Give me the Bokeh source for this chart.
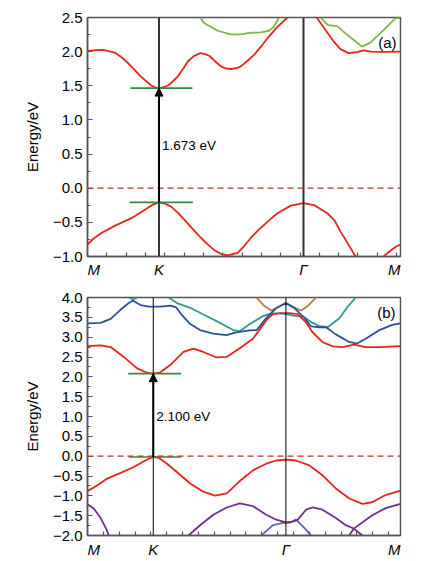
from bokeh.plotting import figure
from bokeh.layouts import column
from bokeh.models import (Span, Label, Arrow, NormalHead, FixedTicker,
                          SingleIntervalTicker, CustomJSTickFormatter, Range1d)
from bokeh.embed import file_html
from bokeh.resources import INLINE

FONT = "Liberation Sans"
RED = "#e8231b"
LGREEN = "#7db843"
DGREEN = "#2f8a3c"
BLUE = "#2b4f9e"
TEAL = "#2e9a92"
BROWN = "#b08040"
PURPLE = "#6e2f8e"
VIOLET = "#6462b8"
ZERO = "#b2352a"

# ---------------- panel (a) ----------------
A_XMAX = 1.62
A_KPTS = [0.0, 0.37, 1.118, 1.62]          # M, K, Gamma, M
A_KLAB = ["M", "K", "\u0393", "M"]
A_YRANGE = (-1.0, 2.5)
A_GAP = "1.673 eV"

a_cb1_x = [0.000, 0.045, 0.081, 0.141, 0.175, 0.210, 0.245, 0.278, 0.330, 0.350, 0.370, 0.390,
           0.416, 0.440, 0.468, 0.495, 0.519, 0.550, 0.584, 0.605, 0.630, 0.660, 0.691, 0.715,
           0.742, 0.770, 0.794, 0.830, 0.862, 0.900, 0.931, 0.983, 1.035]
a_cb1_e = [2.011, 2.022, 2.025, 1.987, 1.920, 1.833, 1.730, 1.630, 1.504, 1.478, 1.466, 1.478,
           1.504, 1.560, 1.639, 1.750, 1.856, 1.935, 1.978, 1.968, 1.940, 1.860, 1.784, 1.755,
           1.746, 1.757, 1.784, 1.870, 1.953, 2.080, 2.195, 2.364, 2.500]
a_cb2_x = [1.186, 1.232, 1.275, 1.309, 1.352, 1.395, 1.430, 1.464, 1.532, 1.620]
a_cb2_e = [2.500, 2.316, 2.146, 2.036, 1.978, 1.992, 2.020, 2.000, 1.997, 2.000]

a_vb1_x = [0.000, 0.030, 0.072, 0.141, 0.227, 0.295, 0.335, 0.370, 0.400, 0.433, 0.465,
           0.502, 0.545, 0.588, 0.625, 0.656, 0.690, 0.725, 0.777, 0.810, 0.845, 0.880,
           0.914, 0.950, 0.983, 1.052, 1.118, 1.172, 1.241, 1.280, 1.309, 1.361, 1.387]
a_vb1_e = [-0.826, -0.740, -0.657, -0.551, -0.439, -0.319, -0.245, -0.207, -0.225, -0.270, -0.350,
           -0.464, -0.600, -0.729, -0.830, -0.907, -0.960, -0.985, -0.946, -0.850, -0.729, -0.625,
           -0.536, -0.445, -0.366, -0.255, -0.218, -0.246, -0.366, -0.480, -0.632, -0.874, -1.000]
a_vb2_x = [1.532, 1.555, 1.576, 1.600, 1.620]
a_vb2_e = [-1.000, -0.945, -0.898, -0.850, -0.826]

a_gr1_x = [0.584, 0.600, 0.622, 0.674, 0.742, 0.794, 0.845, 0.897, 0.940, 0.965, 0.991]
a_gr1_e = [2.500, 2.430, 2.388, 2.306, 2.253, 2.253, 2.277, 2.282, 2.306, 2.364, 2.500]
a_gr2_x = [1.206, 1.244, 1.292, 1.335, 1.378, 1.421, 1.464, 1.532, 1.593, 1.620]
a_gr2_e = [2.500, 2.388, 2.374, 2.268, 2.171, 2.074, 2.132, 2.316, 2.486, 2.500]

a_gl_x0 = [0.222, 0.218]
a_gl_x1 = [0.543, 0.545]
a_gl_e = [1.466, -0.207]

# ---------------- panel (b) ----------------
B_XMAX = 1.975
B_KPTS = [0.0, 0.415, 1.252, 1.975]
B_KLAB = ["M", "K", "\u0393", "M"]
B_YRANGE = (-2.0, 4.0)
B_GAP = "2.100 eV"

b_cb_x = [0.000, 0.083, 0.146, 0.229, 0.313, 0.376, 0.415, 0.460, 0.522, 0.606, 0.668, 0.731,
          0.815, 0.878, 0.961, 1.044, 1.086, 1.128, 1.170, 1.222, 1.274, 1.326, 1.379, 1.420,
          1.483, 1.545, 1.608, 1.682, 1.755, 1.838, 1.975]
b_cb_e = [2.776, 2.794, 2.751, 2.502, 2.214, 2.104, 2.080, 2.114, 2.296, 2.627, 2.711, 2.627,
          2.488, 2.502, 2.720, 2.960, 3.190, 3.430, 3.580, 3.606, 3.606, 3.580, 3.373, 3.124,
          2.876, 2.770, 2.751, 2.810, 2.751, 2.751, 2.776]

b_vb_x = [0.000, 0.063, 0.125, 0.209, 0.292, 0.376, 0.415, 0.449, 0.502, 0.564, 0.648, 0.731,
          0.804, 0.878, 0.961, 1.044, 1.128, 1.191, 1.252, 1.316, 1.400, 1.483, 1.567, 1.650,
          1.734, 1.796, 1.881, 1.975]
b_vb_e = [-0.881, -0.731, -0.565, -0.423, -0.274, -0.085, -0.020, -0.040, -0.190, -0.398, -0.689,
          -0.896, -0.995, -0.938, -0.627, -0.358, -0.190, -0.109, -0.085, -0.109, -0.234, -0.483,
          -0.813, -1.062, -1.204, -1.162, -0.980, -0.871]

b_p1_x = [0.000, 0.041, 0.083, 0.115, 0.135]
b_p1_e = [-1.211, -1.328, -1.560, -1.808, -2.000]
b_p2_x = [0.637, 0.710, 0.794, 0.878, 0.961, 1.044, 1.128, 1.191, 1.252, 1.295, 1.327, 1.379,
          1.421, 1.483, 1.567, 1.630, 1.682, 1.734]
b_p2_e = [-2.000, -1.741, -1.478, -1.294, -1.190, -1.260, -1.478, -1.602, -1.667, -1.650, -1.600,
          -1.350, -1.290, -1.350, -1.560, -1.740, -1.830, -2.000]
b_p4_x = [1.651, 1.682, 1.797, 1.881, 1.975]
b_p4_e = [-2.000, -1.820, -1.490, -1.310, -1.200]
b_l1_x = [1.097, 1.170, 1.233, 1.274, 1.316, 1.368, 1.411]
b_l1_e = [-2.000, -1.740, -1.684, -1.680, -1.600, -1.810, -2.000]

b_bl_x = [0.000, 0.083, 0.146, 0.208, 0.260, 0.288, 0.334, 0.386, 0.460, 0.522, 0.560, 0.595,
          0.648, 0.710, 0.794, 0.878, 0.940, 1.024, 1.068, 1.128, 1.191, 1.252, 1.306, 1.369,
          1.411, 1.463, 1.505, 1.567, 1.651, 1.701, 1.755, 1.838, 1.922, 1.975]
b_bl_e = [3.350, 3.360, 3.460, 3.690, 3.860, 3.920, 3.810, 3.770, 3.770, 3.795, 3.750, 3.560,
          3.330, 3.180, 3.090, 3.050, 3.120, 3.170, 3.180, 3.480, 3.730, 3.860, 3.730, 3.480,
          3.270, 3.250, 3.250, 3.070, 2.880, 2.840, 2.960, 3.170, 3.310, 3.350]

b_t1_x = [0.265, 0.288, 0.309]
b_t1_e = [4.000, 3.940, 4.000]
b_t2_x = [0.512, 0.564, 0.648, 0.731, 0.836, 0.919, 0.961, 1.024, 1.107, 1.160, 1.212, 1.254,
          1.316, 1.358, 1.411, 1.463, 1.515, 1.588, 1.638, 1.693]
b_t2_e = [4.000, 3.860, 3.740, 3.570, 3.360, 3.180, 3.150, 3.330, 3.530, 3.600, 3.600, 3.580,
          3.530, 3.530, 3.380, 3.280, 3.250, 3.470, 3.750, 4.000]

b_br_x = [1.066, 1.112, 1.160, 1.202, 1.252, 1.300, 1.348, 1.394, 1.442]
b_br_e = [4.000, 3.800, 3.670, 3.760, 3.860, 3.760, 3.670, 3.800, 4.000]

b_gl_x0 = [0.257, 0.261]
b_gl_x1 = [0.591, 0.589]
b_gl_e = [2.080, -0.020]


def make_panel(xmax, yrange, kpts, klab, label_shift, minor, height, mbl, mbr, mbt, mbb,
               standoff, kline_w, kline_c):
    p = figure(width=440, height=height, x_range=Range1d(0, xmax),
               y_range=Range1d(*yrange), output_backend="svg", toolbar_location=None,
               min_border_left=mbl, min_border_right=mbr, min_border_top=mbt,
               min_border_bottom=mbb, background_fill_color="white",
               border_fill_color="white")
    p.grid.visible = False
    p.outline_line_color = "#555555"
    p.outline_line_width = 1.5

    # x axis: k-point labels
    pos = [kpts[0] + label_shift, kpts[1], kpts[2], kpts[3] - label_shift]
    xa = p.xaxis[0]
    xa.ticker = FixedTicker(ticks=pos, minor_ticks=minor)
    xa.formatter = CustomJSTickFormatter(args=dict(labels=klab), code="return labels[index];")
    xa.major_tick_in = 0
    xa.major_tick_out = 0
    xa.minor_tick_in = 4
    xa.minor_tick_out = 0
    xa.minor_tick_line_color = "#555555"
    xa.minor_tick_line_width = 1.2
    xa.axis_line_color = "#555555"
    xa.axis_line_width = 1.5
    xa.major_label_text_font = FONT
    xa.major_label_text_font_size = "15px"
    xa.major_label_text_font_style = "italic"
    xa.major_label_text_color = "black"
    xa.major_label_standoff = standoff

    ya = p.yaxis[0]
    ya.ticker = SingleIntervalTicker(interval=0.5, num_minor_ticks=2)
    ya.formatter = CustomJSTickFormatter(
        code="return (tick < -1e-9 ? '\u2212' : '') + Math.abs(tick).toFixed(1);")
    ya.major_tick_in = 5
    ya.major_tick_out = 0
    ya.minor_tick_in = 3
    ya.minor_tick_out = 0
    ya.major_tick_line_color = "#555555"
    ya.minor_tick_line_color = "#555555"
    ya.major_tick_line_width = 1.2
    ya.minor_tick_line_width = 1.2
    ya.axis_line_color = "#555555"
    ya.axis_line_width = 1.5
    ya.major_label_text_font = FONT
    ya.major_label_text_font_size = "15px"
    ya.major_label_text_color = "black"
    ya.major_label_standoff = 5
    ya.axis_label = "Energy/eV"
    ya.axis_label_text_font = FONT
    ya.axis_label_text_font_size = "15px"
    ya.axis_label_text_font_style = "normal"
    ya.axis_label_text_color = "black"
    ya.axis_label_standoff = 9

    for k in kpts[1:3]:
        p.add_layout(Span(location=k, dimension="height", line_color=kline_c,
                          line_width=kline_w))
    p.add_layout(Span(location=0.0, dimension="width", line_color=ZERO,
                      line_width=1.2, line_dash="6 4"))
    return p


# ---------- build panel (a) ----------
pa = make_panel(A_XMAX, A_YRANGE, A_KPTS, A_KLAB, 0.032,
                [round(0.1 * i, 1) for i in range(1, 17)],
                280, 86, 40, 17, 22, 4, 2.0, "#333333")
for xs, es, c in [(a_gr1_x, a_gr1_e, LGREEN), (a_gr2_x, a_gr2_e, LGREEN),
                  (a_cb1_x, a_cb1_e, RED), (a_cb2_x, a_cb2_e, RED),
                  (a_vb1_x, a_vb1_e, RED), (a_vb2_x, a_vb2_e, RED)]:
    pa.line(xs, es, line_color=c, line_width=1.8)
pa.segment(x0=a_gl_x0, y0=a_gl_e, x1=a_gl_x1, y1=a_gl_e, line_color=DGREEN, line_width=1.6)
pa.add_layout(Arrow(end=NormalHead(size=8, fill_color="black", line_color="black", line_width=1),
                    x_start=A_KPTS[1], y_start=a_gl_e[1], x_end=A_KPTS[1], y_end=a_gl_e[0],
                    line_color="black", line_width=2))
pa.add_layout(Label(x=A_KPTS[1], y=0.62, text=A_GAP, x_offset=3, text_baseline="middle",
                    text_align="left", text_font=FONT, text_font_size="13.5px",
                    text_color="black"))
pa.add_layout(Label(x=A_XMAX, y=2.13, text="(a)", x_offset=-4, text_baseline="middle",
                    text_align="right", text_font=FONT, text_font_size="15px",
                    text_color="black"))

# ---------- build panel (b) ----------
pb = make_panel(B_XMAX, B_YRANGE, B_KPTS, B_KLAB, 0.039,
                [round(0.1 * i, 1) for i in range(1, 20)],
                280, 87, 38, 17, 22, 5, 1.0, "black")
for xs, es, c in [(b_p1_x, b_p1_e, PURPLE), (b_l1_x, b_l1_e, VIOLET),
                  (b_p2_x, b_p2_e, PURPLE), (b_p4_x, b_p4_e, PURPLE),
                  (b_br_x, b_br_e, BROWN), (b_t1_x, b_t1_e, TEAL), (b_t2_x, b_t2_e, TEAL),
                  (b_bl_x, b_bl_e, BLUE), (b_cb_x, b_cb_e, RED), (b_vb_x, b_vb_e, RED)]:
    pb.line(xs, es, line_color=c, line_width=1.8)
pb.segment(x0=b_gl_x0, y0=b_gl_e, x1=b_gl_x1, y1=b_gl_e, line_color=DGREEN, line_width=1.6)
pb.add_layout(Arrow(end=NormalHead(size=8, fill_color="black", line_color="black", line_width=1),
                    x_start=B_KPTS[1], y_start=b_gl_e[1], x_end=B_KPTS[1], y_end=b_gl_e[0],
                    line_color="black", line_width=2))
pb.add_layout(Label(x=B_KPTS[1], y=0.99, text=B_GAP, x_offset=3, text_baseline="middle",
                    text_align="left", text_font=FONT, text_font_size="13.5px",
                    text_color="black"))
pb.add_layout(Label(x=B_XMAX, y=3.63, text="(b)", x_offset=-5, text_baseline="middle",
                    text_align="right", text_font=FONT, text_font_size="15px",
                    text_color="black"))

layout = column(pa, pb)
open("out.html", "w").write(file_html(layout, INLINE))
